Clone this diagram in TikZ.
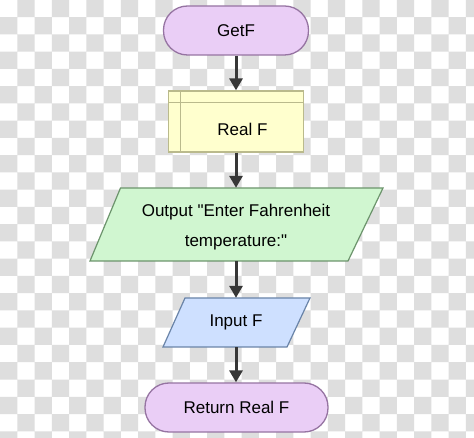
\documentclass[tikz,border=0pt]{standalone}
\usepackage{fontspec}
\setmainfont{Liberation Sans}[Ligatures=TeXOff]
\usetikzlibrary{arrows.meta,calc}
\definecolor{checkgray}{RGB}{222,222,222}
\definecolor{purpfill}{RGB}{234,206,246}
\definecolor{purpline}{RGB}{150,116,162}
\definecolor{yelfill}{RGB}{255,255,206}
\definecolor{yelline}{RGB}{186,186,140}
\definecolor{grnfill}{RGB}{208,246,208}
\definecolor{grnline}{RGB}{108,148,108}
\definecolor{blufill}{RGB}{206,224,255}
\definecolor{bluline}{RGB}{106,132,168}
\definecolor{arrcol}{RGB}{55,55,55}
\tikzset{
  txt/.style={font=\fontsize{17}{29}\selectfont, text=black, align=center, inner sep=0pt},
  terminal/.style={txt, draw=purpline, fill=purpfill, line width=1.3pt, rounded corners=24pt, minimum height=49pt},
  procbox/.style={draw=yelline, fill=yelfill, line width=1.3pt},
  iobox/.style={txt, minimum height=#1},
  arr/.style={draw=arrcol, line width=3pt, -{Triangle[length=12pt,width=13pt]}}
}
\begin{document}
\begin{tikzpicture}[x=1pt,y=-1pt]
\useasboundingbox (0,0) rectangle (474,438);
\fill[white] (0,0) rectangle (474,438);
\fill[checkgray]
  \foreach \i in {0,2,...,26}{ \foreach \j in {1,3,...,25}{ (17.25*\i,17.25*\j) rectangle ++(17.25,17.25) } }
  \foreach \i in {1,3,...,27}{ \foreach \j in {0,2,...,24}{ (17.25*\i,17.25*\j) rectangle ++(17.25,17.25) } };
% GetF
\node[terminal, minimum width=145pt] (g) at (236,30.5) {GetF};
% Real F
\node[procbox, minimum width=135pt, minimum height=61pt] (r) at (236,121.5) {};
\draw[yelline, line width=1.1pt] ($(r.north west)+(13,0)$) -- ($(r.south west)+(13,0)$);
\draw[yelline, line width=1.1pt] ($(r.north west)+(0,12)$) -- ($(r.north east)+(0,12)$);
\node[txt] (rt) at (242.5,129.5) {Real F};
% Output
\coordinate (oc) at (236,224.5);
\filldraw[draw=grnline, fill=grnfill, line width=1.2pt]
  ($(oc)+(-115.5,-36.5)$) -- ($(oc)+(147,-36.5)$) -- ($(oc)+(112,36.5)$) -- ($(oc)+(-146,36.5)$) -- cycle;
\node[iobox=73pt, minimum width=230pt] (o) at (oc) {};
\node[txt] (ot) at ($(oc)+(0,3)$) {Output "Enter Fahrenheit\\[1pt]temperature:"};
% Input
\coordinate (ic) at (236,322.5);
\filldraw[draw=bluline, fill=blufill, line width=1.2pt]
  ($(ic)+(-51,-24.5)$) -- ($(ic)+(74,-24.5)$) -- ($(ic)+(51,24.5)$) -- ($(ic)+(-73,24.5)$) -- cycle;
\node[iobox=49pt, minimum width=100pt] (in) at (ic) {Input F};
% Return
\node[terminal, minimum width=183pt] (ret) at (236.5,407.5) {Return Real F};
% arrows
\draw[arr] (g.south) -- (r.north);
\draw[arr] (r.south) -- (o.north);
\draw[arr] (o.south) -- (in.north);
\draw[arr] (in.south) -- (ret.north -| in.south);
\end{tikzpicture}
\end{document}
